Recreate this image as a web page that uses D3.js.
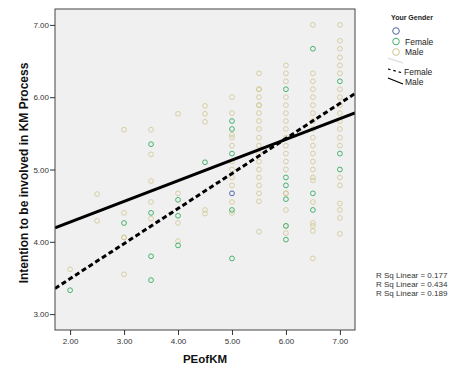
<!DOCTYPE html>
<html><head><meta charset="utf-8">
<script src="https://cdn.jsdelivr.net/npm/d3@7"></script>
<style>body{margin:0;background:#fff;}svg{display:block;font-family:"Liberation Sans",Arial,sans-serif;}</style>
</head><body>
<svg id="chart" width="474" height="380"></svg>
<script>
// ---- data ----
const xTicks = [2, 3, 4, 5, 6, 7];
const yTicks = [3, 4, 5, 6, 7];
const malePoints = [
  [2,3.62],
  [2.5,4.66],[2.5,4.29],
  [3,5.55],[3,4.40],[3,4.06],[3,4.06],[3,3.55],
  [3.5,5.55],[3.5,5.21],[3.5,4.84],[3.5,4.55],[3.5,4.32],
  [4,5.77],[4,4.67],[4,4.26],[4,4.01],
  [4.5,5.88],[4.5,5.77],[4.5,5.66],[4.5,4.44],[4.5,4.39],
  [5,6.00],[5,5.78],[5,5.48],[5,5.44],[5,5.33],[5,5.11],[5,5.00],[5,4.89],[5,4.78],[5,4.55],[5,4.40],
  [5.5,6.33],[5.5,6.11],[5.5,6.11],[5.5,6.00],[5.5,5.89],[5.5,5.89],[5.5,5.78],[5.5,5.67],[5.5,5.56],[5.5,5.44],[5.5,5.33],[5.5,5.22],[5.5,5.11],[5.5,5.00],[5.5,4.89],[5.5,4.78],[5.5,4.67],[5.5,4.56],[5.5,4.14],
  [6,6.44],[6,6.33],[6,6.22],[6,6.00],[6,5.89],[6,5.78],[6,5.67],[6,5.56],[6,5.44],[6,5.33],[6,5.22],[6,5.11],[6,5.00],[6,4.67],[6,4.67],[6,4.44],[6,4.22],[6,4.12],
  [6.5,7.00],[6.5,6.33],[6.5,6.22],[6.5,6.11],[6.5,6.00],[6.5,5.89],[6.5,5.78],[6.5,5.67],[6.5,5.56],[6.5,5.44],[6.5,5.33],[6.5,5.22],[6.5,5.11],[6.5,5.00],[6.5,4.89],[6.5,4.85],[6.5,4.55],[6.5,4.26],[6.5,4.22],[6.5,4.15],[6.5,3.77],
  [7,7.00],[7,6.78],[7,6.67],[7,6.55],[7,6.44],[7,6.33],[7,6.11],[7,6.00],[7,5.89],[7,5.78],[7,5.67],[7,5.56],[7,5.44],[7,5.33],[7,4.89],[7,4.78],[7,4.53],[7,4.44],[7,4.33],[7,4.11]
];
const femalePoints = [
  [2,3.33],
  [3,4.26],
  [3.5,5.35],[3.5,4.40],[3.5,3.80],[3.5,3.47],
  [4,4.58],[4,4.36],[4,3.95],
  [4.5,5.10],
  [5,5.67],[5,5.56],[5,5.22],[5,4.44],[5,3.77],
  [6,6.11],[6,4.89],[6,4.78],[6,4.59],[6,4.22],[6,4.03],
  [6.5,6.67],[6.5,4.67],[6.5,4.44],
  [7,6.22],[7,5.22],[7,5.00]
];
const otherPoints = [[5,4.67]];
const fitGenders = ["Female", "Male"];
const fitIntercepts = [2.52, 3.70];
const fitSlopes = [0.485, 0.286];
const rSquared = [0.177, 0.434, 0.189];

// ---- layout ----
const svg = d3.select("#chart");
const L = 55, R = 355, T = 9, B = 330;
const x = d3.scaleLinear().domain([1.72, 7.28]).range([L, R]);
const y = d3.scaleLinear().domain([2.78, 7.22]).range([B, T]);
const green = "#3fae6a", tan = "#cdc48c", blue = "#4a64a8";

svg.append("rect").attr("x", L).attr("y", T).attr("width", R - L).attr("height", B - T)
  .attr("fill", "#f0f0f0");

svg.append("clipPath").attr("id", "pc").append("rect")
  .attr("x", L).attr("y", T).attr("width", R - L).attr("height", B - T);

const g = svg.append("g").attr("clip-path", "url(#pc)");
function pts(data, color, op) {
  g.append("g").selectAll("circle").data(data).join("circle")
    .attr("cx", d => x(d[0])).attr("cy", d => y(d[1])).attr("r", 2.4)
    .attr("fill", "none").attr("stroke", color).attr("stroke-width", 1).attr("stroke-opacity", op);
}
pts(malePoints, tan, 0.75);
pts(femalePoints, green, 0.95);
pts(otherPoints, blue, 1);

const xd = x.domain();
fitGenders.forEach((gname, i) => {
  const a = fitIntercepts[i], b = fitSlopes[i];
  g.append("line")
    .attr("x1", x(xd[0])).attr("y1", y(a + b * xd[0]))
    .attr("x2", x(xd[1])).attr("y2", y(a + b * xd[1]))
    .attr("stroke", "#000").attr("stroke-width", 3)
    .attr("stroke-dasharray", gname === "Female" ? "5,3" : null);
});

svg.append("rect").attr("x", L).attr("y", T).attr("width", R - L).attr("height", B - T)
  .attr("fill", "none").attr("stroke", "#444").attr("stroke-width", 1);

// axes
const ya = svg.append("g").attr("transform", `translate(${L},0)`)
  .call(d3.axisLeft(y).tickValues(yTicks).tickFormat(d3.format(".2f")).tickSize(5).tickSizeOuter(0));
const xa = svg.append("g").attr("transform", `translate(0,${B})`)
  .call(d3.axisBottom(x).tickValues(xTicks).tickFormat(d3.format(".2f")).tickSize(5).tickSizeOuter(0));
[ya, xa].forEach(a => {
  a.select(".domain").remove();
  a.selectAll("line").attr("stroke", "#333");
  a.selectAll("text").attr("fill", "#333").style("font-size", "8px")
    .style("font-family", "'Liberation Sans',Arial,sans-serif");
});
ya.selectAll("text").attr("x", -6);
xa.selectAll("text").attr("y", 8);

svg.append("text").attr("x", (L + R) / 2).attr("y", 363).attr("text-anchor", "middle")
  .style("font-size", "11.5px").style("font-weight", "bold").attr("fill", "#111").text("PEofKM");
svg.append("text").attr("transform", "translate(28,173) rotate(-90)").attr("text-anchor", "middle")
  .style("font-size", "12px").style("font-weight", "bold").attr("fill", "#111")
  .text("Intention to be involved in KM Process");

// legend
const lg = svg.append("g");
lg.append("text").attr("x", 391).attr("y", 19.5).style("font-size", "7px").style("font-weight", "bold")
  .attr("fill", "#222").text("Your Gender");
[[blue, ""], [green, "Female"], [tan, "Male"]].forEach((d, i) => {
  const cy = 31 + i * 10.5;
  lg.append("circle").attr("cx", 396).attr("cy", cy).attr("r", 3.3).attr("fill", "none")
    .attr("stroke", d[0]).attr("stroke-width", 1);
  lg.append("text").attr("x", 405).attr("y", cy + 3).style("font-size", "8.5px").attr("fill", "#222").text(d[1]);
});
lg.append("line").attr("x1", 388).attr("y1", 58).attr("x2", 403).attr("y2", 63)
  .attr("stroke", "#e2e2e2").attr("stroke-width", 1.5);
lg.append("line").attr("x1", 388).attr("y1", 69).attr("x2", 403).attr("y2", 73)
  .attr("stroke", "#000").attr("stroke-width", 1.2).attr("stroke-dasharray", "2.5,3");
lg.append("text").attr("x", 404).attr("y", 75).style("font-size", "8.5px").attr("fill", "#222").text(fitGenders[0]);
lg.append("line").attr("x1", 388).attr("y1", 78).attr("x2", 403).attr("y2", 84)
  .attr("stroke", "#000").attr("stroke-width", 1.2);
lg.append("text").attr("x", 405).attr("y", 84.5).style("font-size", "8.5px").attr("fill", "#222").text(fitGenders[1]);

rSquared.forEach((r, i) => {
  svg.append("text").attr("x", 376).attr("y", 278 + i * 9).style("font-size", "8px").attr("fill", "#333")
    .text("R Sq Linear = " + d3.format(".3f")(r));
});
</script>
</body></html>
